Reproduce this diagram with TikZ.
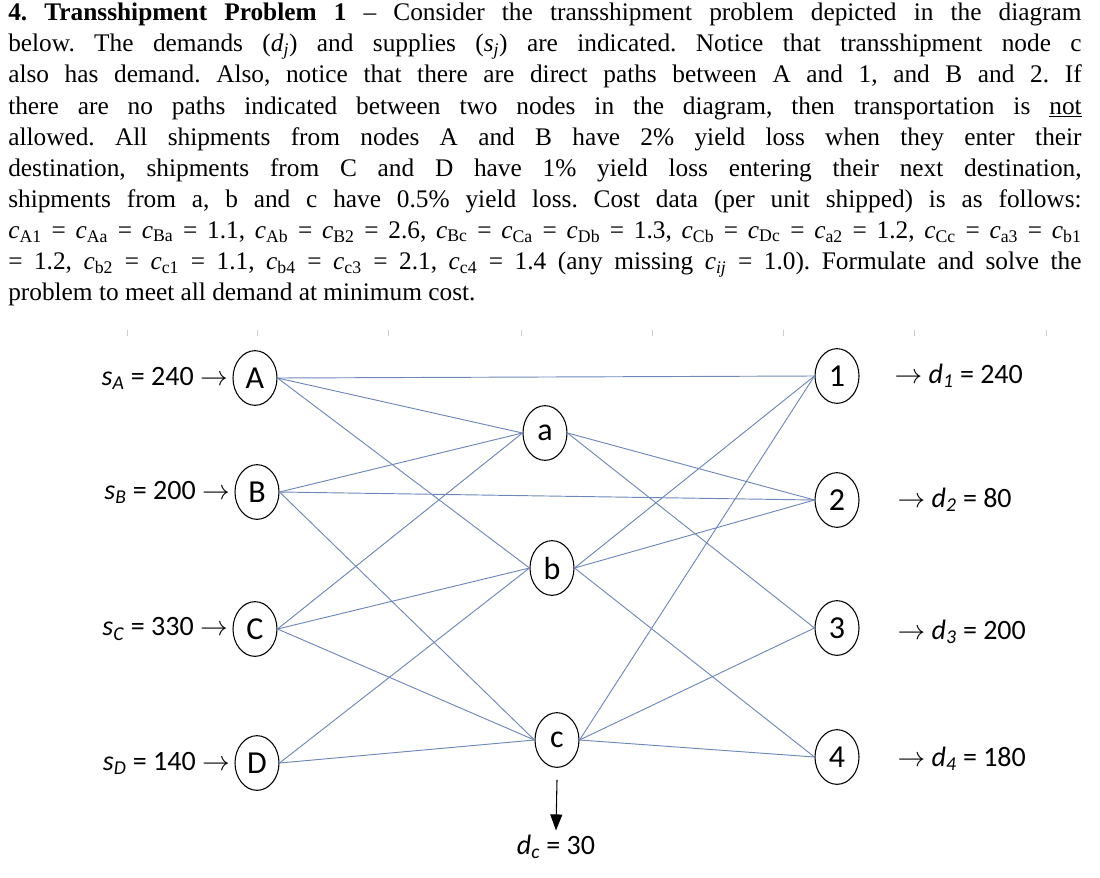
\documentclass[tikz,border=0pt]{standalone}
\usepackage{fontspec}
\setmainfont{Liberation Serif}
\newfontfamily\diagfont{Carlito}
\usetikzlibrary{arrows.meta,shapes.geometric}
\newcommand{\cost}[1]{\textit{c}\textsubscript{#1}}
\newcommand{\vsub}[2]{\textit{#1}\textsubscript{\textit{#2}}}
\begin{document}
\begin{tikzpicture}[x=0.75pt,y=0.75pt,yscale=-1,xscale=1,
  stn/.style={draw,thick,ellipse,minimum width=33pt,minimum height=41pt,inner sep=0pt,font=\diagfont\fontsize{24}{24}\selectfont},
  lbl/.style={font=\diagfont\fontsize{21}{21}\selectfont},
  arc/.style={draw={rgb,255:red,110;green,135;blue,185},line width=0.7pt}]
\useasboundingbox (0,0) rectangle (1100,878);

% Text Node
\node[anchor=north west,inner sep=0pt,text width=805pt,align=justify,
  font=\fontsize{19}{23.3}\selectfont\frenchspacing] (txt) at (8,3) {\textbf{4. Transshipment Problem 1} -- Consider the transshipment problem depicted in the diagram\linebreak
below. The demands (\textit{d\textsubscript{j}}) and supplies (\textit{s\textsubscript{j}}) are indicated. Notice that transshipment node c\linebreak
also has demand. Also, notice that there are direct paths between A and 1, and B and 2. If\linebreak
there are no paths indicated between two nodes in the diagram, then transportation is \underline{not}\linebreak
allowed. All shipments from nodes A and B have 2\% yield loss when they enter their\linebreak
destination, shipments from C and D have 1\% yield loss entering their next destination,\linebreak
shipments from a, b and c have 0.5\% yield loss. Cost data (per unit shipped) is as follows:\linebreak
\cost{A1} = \cost{Aa} = \cost{Ba} = 1.1, \cost{Ab} = \cost{B2} = 2.6, \cost{Bc} = \cost{Ca} = \cost{Db} = 1.3, \cost{Cb} = \cost{Dc} = \cost{a2} = 1.2, \cost{Cc} = \cost{a3} = \cost{b1}\linebreak
= 1.2, \cost{b2} = \cost{c1} = 1.1, \cost{b4} = \cost{c3} = 2.1, \cost{c4} = 1.4 (any missing \textit{c\textsubscript{ij}} = 1.0). Formulate and solve the\linebreak
problem to meet all demand at minimum cost.};

% ruler ticks
\foreach \tx in {127,257,388,521,652,783,914,1046}
  \draw[gray!40] (\tx,330) -- (\tx,336);

% supply nodes
\node[stn] (A) at (255,378) {A};
\node[stn] (B) at (257,492) {B};
\node[stn] (C) at (255,629) {C};
\node[stn] (D) at (257,763) {D};
% transshipment nodes
\node[stn] (a) at (545,433) {a};
\node[stn] (b) at (552,568) {b};
\node[stn] (c) at (557,740) {c};
% demand nodes
\node[stn] (n1) at (837,376) {1};
\node[stn] (n2) at (837,500) {2};
\node[stn] (n3) at (837,628) {3};
\node[stn] (n4) at (837,757) {4};

% arcs
\foreach \s/\t in {A/n1,A/a,A/b,B/a,B/n2,B/c,C/a,C/b,C/c,D/b,D/c,
                   a/n2,a/n3,b/n1,b/n2,b/n4,c/n1,c/n3,c/n4}
  \draw[arc] (\s.east) -- (\t.west);

% supplies
\node[lbl,anchor=east] (sA) at (A.west) {\vsub{s}{A} = 240 $\rightarrow$};
\node[lbl,anchor=east] (sB) at (B.west) {\vsub{s}{B} = 200 $\rightarrow$};
\node[lbl,anchor=east] (sC) at (C.west) {\vsub{s}{C} = 330 $\rightarrow$};
\node[lbl,anchor=east] (sD) at (D.west) {\vsub{s}{D} = 140 $\rightarrow$};
% demands
\node[lbl,anchor=west] (d1) at (890,376) {$\rightarrow$ \vsub{d}{1} = 240};
\node[lbl,anchor=west] (d2) at (893,500) {$\rightarrow$ \vsub{d}{2} = 80};
\node[lbl,anchor=west] (d3) at (893,632) {$\rightarrow$ \vsub{d}{3} = 200};
\node[lbl,anchor=west] (d4) at (893,759) {$\rightarrow$ \vsub{d}{4} = 180};
\node[lbl] (dc) at (556,847) {\vsub{d}{c} = 30};
\draw[-{Triangle[length=12pt,width=9pt]},line width=0.8pt] (c.south) ++(0,12) -- (dc.north);
\end{tikzpicture}
\end{document}
